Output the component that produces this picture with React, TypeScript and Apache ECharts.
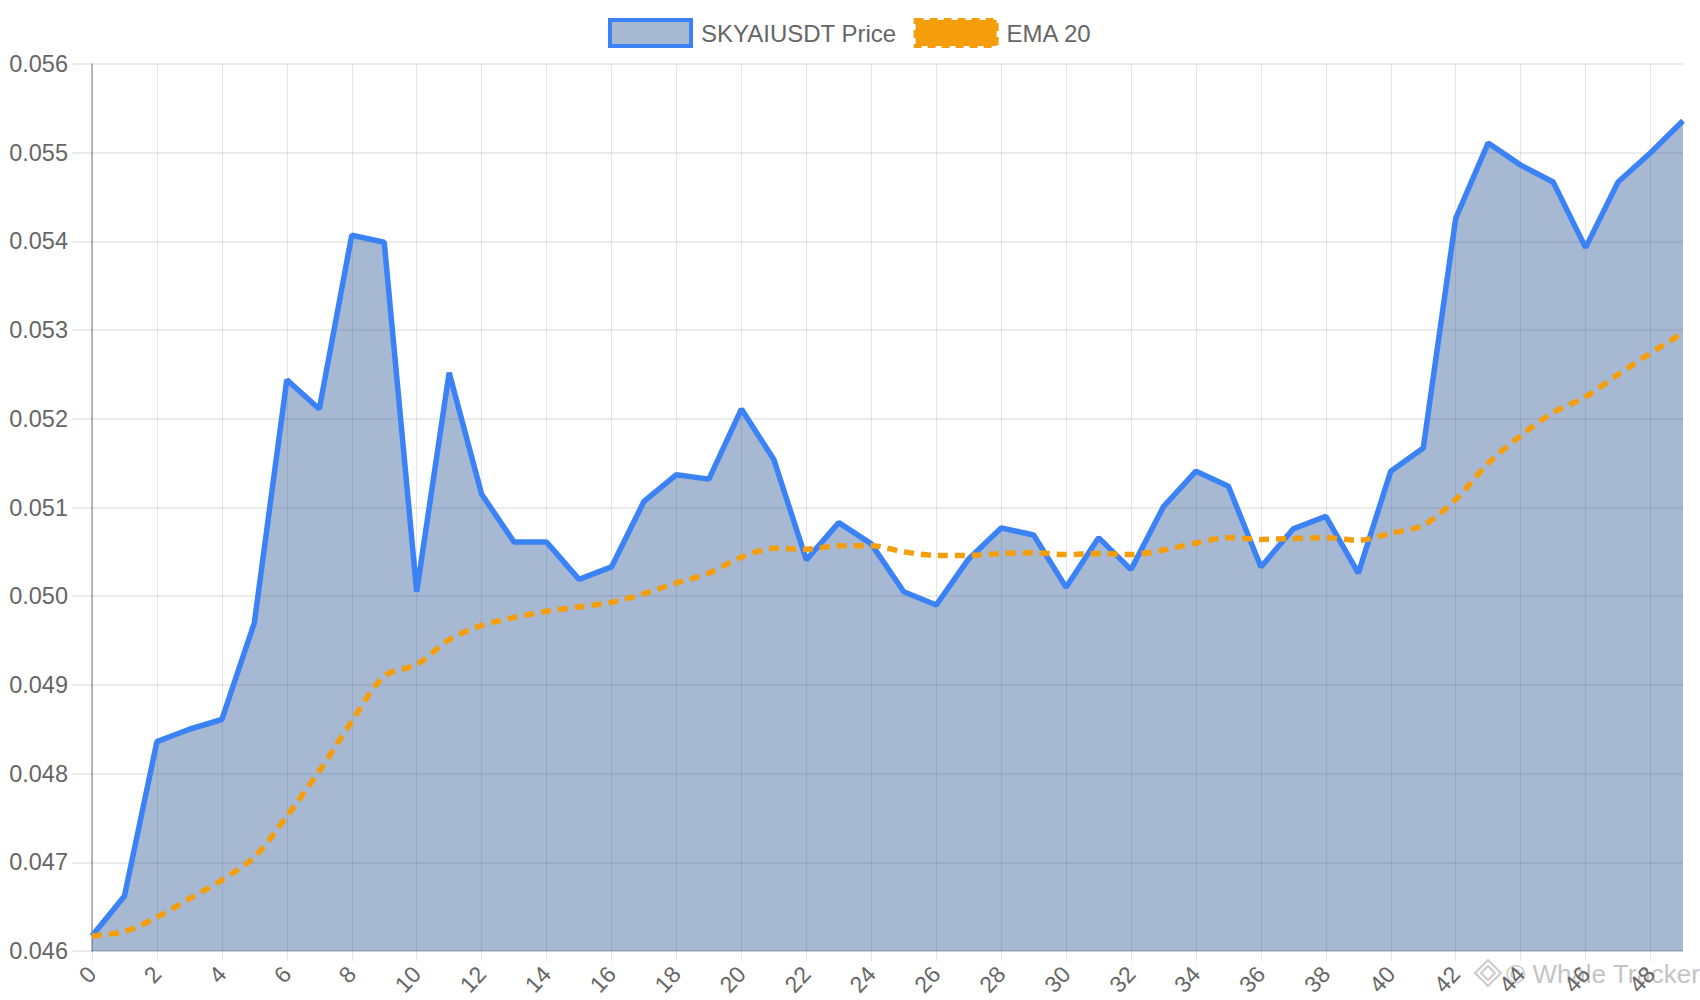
import React, { useEffect, useRef } from "react";
import * as echarts from "echarts";

const categories: string[] = Array.from({ length: 50 }, (_, i) => String(i));

const priceValues: number[] = [
  0.04617, 0.04662, 0.04836, 0.0485, 0.04861, 0.0497, 0.05244, 0.05211, 0.05407, 0.05399,
  0.05005, 0.05252, 0.05115, 0.05061, 0.05061, 0.05019, 0.05033, 0.05107, 0.05137, 0.05132,
  0.05211, 0.05154, 0.05041, 0.05083, 0.05059, 0.05005, 0.0499, 0.05042, 0.05077, 0.05069,
  0.0501, 0.05066, 0.0503, 0.05101, 0.05141, 0.05124, 0.05033, 0.05076, 0.0509, 0.05026,
  0.05141, 0.05167, 0.05426, 0.05511, 0.05486, 0.05467, 0.05393, 0.05467, 0.055, 0.05536,
];

const emaValues: number[] = [
  0.04617, 0.04622, 0.04638, 0.04659, 0.0468, 0.04706, 0.04752, 0.04803, 0.04859, 0.0491,
  0.04923, 0.04951, 0.04967, 0.04976, 0.04983, 0.04988, 0.04993, 0.05003, 0.05015, 0.05026,
  0.05044, 0.05054, 0.05053, 0.05057, 0.05057, 0.0505, 0.05046, 0.05046, 0.05048, 0.05049,
  0.05047, 0.05048, 0.05047, 0.05052, 0.0506, 0.05066, 0.05064, 0.05065, 0.05066, 0.05063,
  0.05071, 0.0508, 0.05109, 0.0515, 0.05181, 0.05207, 0.05225, 0.0525, 0.05274, 0.05297,
];

const seriesNames: string[] = ["SKYAIUSDT Price", "EMA 20"];
const watermarkText = "© Whale Tracker";

export default function App() {
  const ref = useRef<HTMLDivElement>(null);

  useEffect(() => {
    if (!ref.current) return;
    const chart = echarts.init(ref.current, null, { renderer: "svg" });
    const font = "'Liberation Sans', Arial, Helvetica, sans-serif";
    const gridColor = "rgba(0,0,0,0.1)";
    chart.setOption({
      animation: false,
      backgroundColor: "#ffffff",
      textStyle: { fontFamily: font },
      legend: {
        top: 13,
        left: "center",
        icon: "rect",
        itemWidth: 81,
        itemHeight: 26,
        itemGap: 17,
        textStyle: { fontSize: 24, color: "#666666", fontFamily: font, padding: [0, 0, 0, 5] },
        data: [
          {
            name: seriesNames[0],
            itemStyle: { color: "#a7b9d3", borderColor: "#3b82f6", borderWidth: 4 },
          },
          {
            name: seriesNames[1],
            itemStyle: { color: "#f59e0b", borderColor: "#f59e0b", borderWidth: 4, borderType: [8, 6] },
          },
        ],
      },
      grid: {
        left: 92,
        right: 17,
        top: 64,
        bottom: 49,
        outerBoundsMode: "none",
        containLabel: false,
      },
      xAxis: {
        type: "category",
        data: categories,
        boundaryGap: false,
        axisLine: { show: true, lineStyle: { color: "rgba(0,0,0,0.12)", width: 1.5 } },
        axisTick: { show: true, interval: 1, length: 10, lineStyle: { color: gridColor, width: 1 } },
        axisLabel: {
          interval: 1,
          rotate: 47,
          margin: 19,
          fontSize: 23,
          color: "#666666",
          fontFamily: font,
        },
        splitLine: { show: true, interval: 1, lineStyle: { color: gridColor, width: 1 } },
      },
      yAxis: {
        type: "value",
        min: 0.046,
        max: 0.056,
        interval: 0.001,
        axisLine: { show: true, lineStyle: { color: "rgba(0,0,0,0.33)", width: 1.5 } },
        axisTick: { show: true, length: 20, lineStyle: { color: gridColor, width: 1.5 } },
        axisLabel: {
          margin: 24,
          fontSize: 23.5,
          color: "#666666",
          fontFamily: font,
          formatter: (v: number) => v.toFixed(3),
        },
        splitLine: { show: true, lineStyle: { color: gridColor, width: 1.5 } },
      },
      series: [
        {
          name: seriesNames[0],
          type: "line",
          data: priceValues,
          symbol: "none",
          z: 2,
          lineStyle: { color: "#3b82f6", width: 5.5 },
          itemStyle: { color: "#3b82f6" },
          areaStyle: { color: "rgb(35,80,143)", opacity: 0.4, origin: "start" },
        },
        {
          name: seriesNames[1],
          type: "line",
          data: emaValues,
          symbol: "none",
          smooth: 0.3,
          z: 3,
          lineStyle: { color: "#f59e0b", width: 5.5, type: [10, 7] },
          itemStyle: { color: "#f59e0b" },
        },
      ],
      graphic: [
        {
          type: "group",
          z: 100,
          children: [
            {
              type: "polygon",
              shape: { points: [[1488, 960], [1501, 973], [1488, 986], [1475, 973]] },
              style: { fill: "none", stroke: "rgba(190,190,190,0.8)", lineWidth: 2 },
            },
            {
              type: "polygon",
              shape: { points: [[1488, 966], [1495, 973], [1488, 980], [1481, 973]] },
              style: { fill: "none", stroke: "rgba(190,190,190,0.8)", lineWidth: 2 },
            },
            {
              type: "text",
              x: 1506,
              y: 974,
              style: {
                text: watermarkText,
                fontSize: 26,
                fontFamily: font,
                fill: "rgba(180,180,180,0.8)",
                verticalAlign: "middle",
                align: "left",
              },
            },
          ],
        },
      ],
    });
    return () => chart.dispose();
  }, []);

  return (
    <div
      ref={ref}
      style={{ position: "fixed", left: 0, top: 0, width: 1700, height: 1000 }}
    />
  );
}
